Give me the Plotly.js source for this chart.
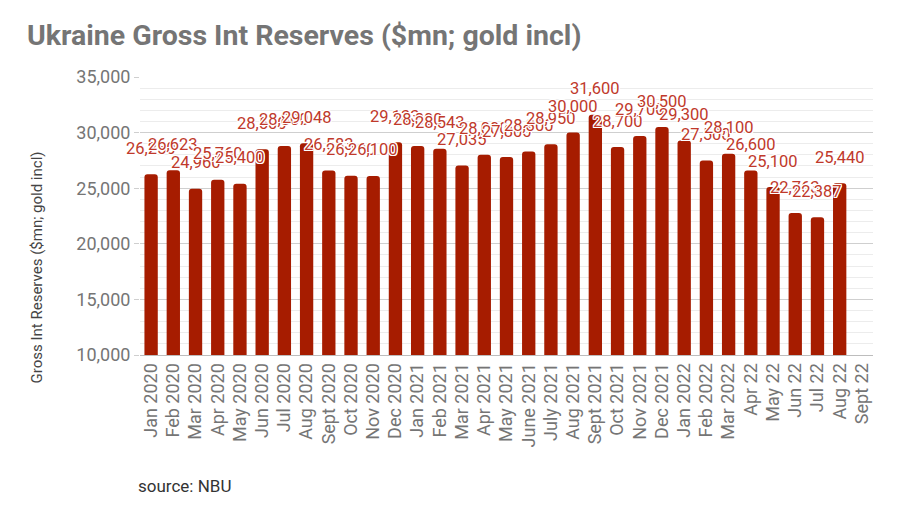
<!DOCTYPE html>
<html>
<head>
<meta charset="utf-8">
<script src="https://cdn.plot.ly/plotly-3.0.1.min.js"></script>
<style>
  html, body { margin: 0; padding: 0; background: #fff; }
  #chart { width: 900px; height: 510px; }
</style>
</head>
<body>
<div id="chart"></div>
<script>
// Month-end gross international reserves, $mn (gold included)
const months = [
  "Jan 2020", "Feb 2020", "Mar 2020", "Apr 2020", "May 2020", "Jun 2020",
  "Jul 2020", "Aug 2020", "Sept 2020", "Oct 2020", "Nov 2020", "Dec 2020",
  "Jan 2021", "Feb 2021", "Mar 2021", "Apr 2021", "May 2021", "June 2021",
  "July 2021", "Aug 2021", "Sept 2021", "Oct 2021", "Nov 2021", "Dec 2021",
  "Jan 2022", "Feb 2022", "Mar 2022", "Apr 22", "May 22", "Jun 22",
  "Jul 22", "Aug 22", "Sept 22"
];
const reserves = [
  26250, 26623, 24960, 25760, 25400, 28500,
  28800, 29048, 26583, 26130, 26100, 29133,
  28800, 28543, 27035, 28000, 27800, 28300,
  28950, 30000, 31600, 28700, 29700, 30500,
  29300, 27500, 28100, 26600, 25100, 22763,
  22387, 25440, null
];
const yTicks = [10000, 15000, 20000, 25000, 30000, 35000];

const barColor = "#a61c00";
const labelColor = "#c0392b";
const greyText = "#757575";

const outline = "1px 1px 0 #fff, -1px -1px 0 #fff, 1px -1px 0 #fff, -1px 1px 0 #fff, 0 1px 0 #fff, 0 -1px 0 #fff, 1px 0 0 #fff, -1px 0 0 #fff";

// value labels sit above each bar
const valueLabels = [];
months.forEach((m, i) => {
  const v = reserves[i];
  if (v === null) return;
  valueLabels.push({
    x: m, y: v, xref: "x", yref: "y",
    text: v.toLocaleString("en-US"),
    showarrow: false, yshift: 26,
    font: { family: "Roboto, sans-serif", size: 16.5, color: labelColor, shadow: outline }
  });
});

const trace = {
  type: "bar",
  x: months,
  y: reserves,
  marker: { color: barColor },
  hoverinfo: "x+y"
};

const layout = {
  width: 900,
  height: 510,
  margin: { l: 140, r: 27, t: 77, b: 155 },
  paper_bgcolor: "#fff",
  plot_bgcolor: "#fff",
  font: { family: "Roboto, sans-serif", color: greyText },
  bargap: 0.4,
  barcornerradius: 3,
  showlegend: false,
  title: {
    text: "<b>Ukraine Gross Int Reserves ($mn; gold incl)</b>",
    xref: "container", yref: "container",
    x: 0.03, xanchor: "left",
    y: 0.932, yanchor: "middle",
    font: { family: "Roboto, sans-serif", size: 28.5, color: greyText }
  },
  xaxis: {
    type: "category",
    range: [-0.5, months.length - 0.5],
    autorange: false,
    tickangle: -90,
    tickfont: { size: 18, color: greyText },
    showgrid: false,
    showline: true,
    linecolor: "#bdbdbd",
    linewidth: 1,
    ticks: "",
    fixedrange: true
  },
  yaxis: {
    range: [10000, 35000],
    autorange: false,
    tickvals: yTicks,
    tickformat: ",d",
    tickfont: { size: 18, color: greyText },
    gridcolor: "#cfcfcf",
    gridwidth: 1,
    ticks: "outside",
    ticklen: 5,
    tickcolor: "#cfcfcf",
    zeroline: false,
    minor: { dtick: 1000, showgrid: true, gridcolor: "#ececec", gridwidth: 1 },
    fixedrange: true
  },
  annotations: valueLabels.concat([
    {
      text: "Gross Int Reserves ($mn; gold incl)",
      xref: "paper", yref: "paper",
      x: 0, xshift: -103, y: 0.315,
      xanchor: "center", yanchor: "middle",
      textangle: -90, showarrow: false,
      font: { family: "Roboto, sans-serif", size: 15, color: "#444" }
    },
    {
      text: "source: NBU",
      xref: "paper", yref: "paper",
      x: 0, xanchor: "left", xshift: -4,
      y: -0.47, yanchor: "middle",
      showarrow: false,
      font: { family: "Roboto, sans-serif", size: 17, color: "#333" }
    }
  ])
};

Plotly.newPlot("chart", [trace], layout, { displayModeBar: false, staticPlot: true });
</script>
</body>
</html>
